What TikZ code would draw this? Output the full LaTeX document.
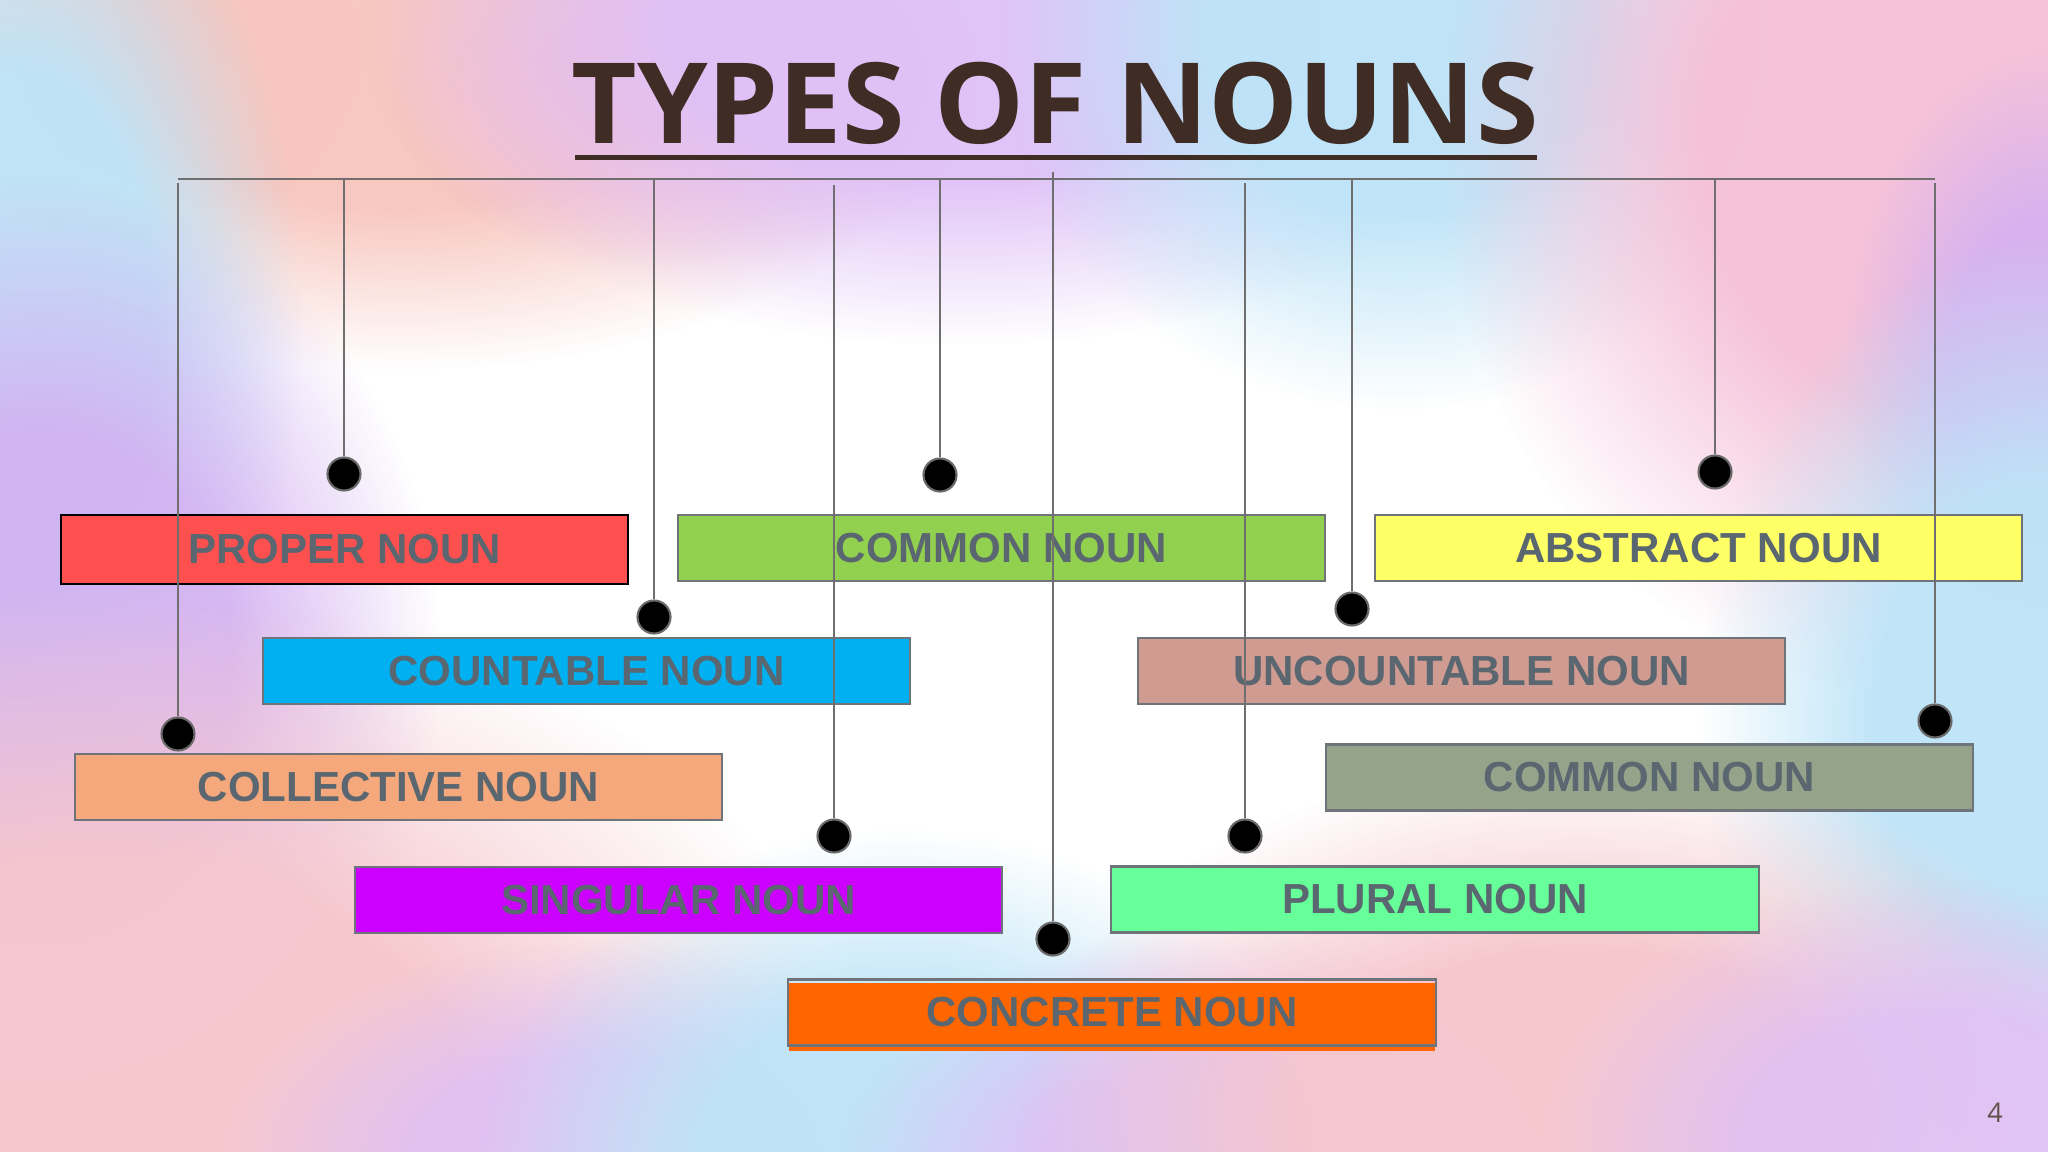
\documentclass[tikz,border=0pt]{standalone}
\usepackage{fontspec}
\setmainfont{Liberation Sans}
\newfontfamily\titlefont{Open Sans}
\usetikzlibrary{fadings}

\definecolor{wpeach}{HTML}{F8C4BC}
\definecolor{wpink}{HTML}{F5BFD8}
\definecolor{wlav}{HTML}{DFC0F7}
\definecolor{wpurp}{HTML}{D3B0F2}
\definecolor{wblue}{HTML}{BDE4F8}
\definecolor{wrose}{HTML}{F6C6CC}

\definecolor{titlebrown}{HTML}{3F2D25}
\definecolor{labeltext}{HTML}{5A6670}
\definecolor{boxline}{HTML}{6E747A}
\definecolor{linegray}{HTML}{6F6F6F}
\definecolor{beadrim}{HTML}{6A6A6A}
\definecolor{pagenum}{HTML}{5F5049}

\definecolor{cProper}{HTML}{FF5050}
\definecolor{cCommon}{HTML}{92D050}
\definecolor{cAbstract}{HTML}{FFFF66}
\definecolor{cCountable}{HTML}{00B0F0}
\definecolor{cUncount}{HTML}{D09B91}
\definecolor{cCollective}{HTML}{F5A87B}
\definecolor{cGray}{HTML}{95A38A}
\definecolor{cSingular}{HTML}{CC00FF}
\definecolor{cPlural}{HTML}{66FF99}
\definecolor{cConcrete}{HTML}{FF6600}

\pgfdeclareradialshading{blobshade}{\pgfpoint{0bp}{0bp}}{color(0bp)=(white); color(12bp)=(white); color(25bp)=(black); color(50bp)=(black)}
\pgfdeclarefading{blobfade}{\pgfuseshading{blobshade}}

\newcommand\wcblob[5]{\fill[#1, path fading=blobfade, fill opacity=#5] (#2) ellipse ({2*#3} and {2*#4});}

\tikzset{
  nbox/.style={draw=boxline, line width=0.6pt, minimum height=0.66cm,
    minimum width=6.47cm, inner sep=0pt,
    font=\fontsize{11.95}{12}\selectfont\bfseries, text=labeltext},
  conn/.style={draw=linegray, line width=0.38pt},
  bead/.style={circle, fill=black, draw=beadrim, line width=0.6pt,
    minimum size=0.33cm, inner sep=0pt},
}

\begin{document}
\begin{tikzpicture}[x=0.01cm,y=-0.01cm]
\useasboundingbox (0,0) rectangle (2048,1152);
\fill[white] (0,0) rectangle (2048,1152);

% watercolor background
\begin{scope}
\clip (0,0) rectangle (2048,1152);
\wcblob{wpeach}{40,50}{160}{110}{0.4}
\wcblob{wpeach}{400,50}{290}{160}{0.95}
\wcblob{wpink}{690,90}{150}{90}{0.6}
\wcblob{wlav}{960,25}{300}{160}{0.95}
\wcblob{wblue}{1400,30}{200}{190}{0.95}
\wcblob{wpink}{1940,140}{250}{280}{0.95}
\wcblob{wpurp}{2045,370}{100}{160}{0.85}
\wcblob{wblue}{20,320}{140}{260}{0.95}
\wcblob{wpurp}{40,660}{200}{240}{0.9}
\wcblob{wblue}{2040,720}{170}{240}{0.95}
\wcblob{wrose}{100,1110}{380}{260}{0.95}
\wcblob{wlav}{600,1160}{190}{110}{0.85}
\wcblob{wblue}{900,1170}{210}{170}{0.95}
\wcblob{wlav}{1220,1170}{190}{120}{0.9}
\wcblob{wrose}{1580,1120}{280}{180}{0.95}
\wcblob{wlav}{1940,1140}{200}{130}{0.85}
\end{scope}

% title
\node[anchor=base, inner sep=0pt, text=titlebrown,
  font=\titlefont\bfseries\fontsize{31.9}{34}\selectfont] (title) at (1055,143.5)
  {\scalebox{1.01}[1]{TYPES OF NOUNS}};
\draw[titlebrown, line width=1.6pt] (575,157.5) -- (1537,157.5);

% boxes
\node[nbox, fill=cProper, draw=black, minimum width=5.67cm, minimum height=0.69cm] (bProper) at (344.5,549.5) {PROPER NOUN};
\node[nbox, fill=cCommon] (bCommon) at (1001.5,548) {COMMON NOUN};
\node[nbox, fill=cAbstract] (bAbstract) at (1698.5,548) {ABSTRACT NOUN};
\node[nbox, fill=cCountable] (bCountable) at (586.5,671) {COUNTABLE NOUN};
\node[nbox, fill=cUncount] (bUncount) at (1461.5,671) {UNCOUNTABLE NOUN};
\node[nbox, fill=cCollective] (bCollective) at (398.5,787) {COLLECTIVE NOUN};
\node[nbox, fill=cGray] (bGray) at (1649.5,777.5) {COMMON NOUN};
\node[nbox, fill=cSingular] (bSingular) at (678.5,900) {SINGULAR NOUN};
\node[nbox, fill=cPlural] (bPlural) at (1435,899.5) {PLURAL NOUN};
\fill[cConcrete] (789,983) rectangle (1435,1051);
\node[nbox] (bConcrete) at (1112,1012.5) {CONCRETE NOUN};

% top bar
\coordinate (barL) at (178,179);
\coordinate (barR) at (1935,179);
\draw[conn] (barL) -- (barR);

% beads
\node[bead] (dCollective) at (178,734) {};
\node[bead] (dProper) at (344,474) {};
\node[bead] (dCountable) at (654,617) {};
\node[bead] (dSingular) at (834,836) {};
\node[bead] (dCommon) at (940,475) {};
\node[bead] (dConcrete) at (1053,939) {};
\node[bead] (dPlural) at (1245,836) {};
\node[bead] (dUncount) at (1352,609) {};
\node[bead] (dAbstract) at (1715,472) {};
\node[bead] (dGray) at (1935,721) {};

% hanging strings
\coordinate (t1) at (178,183);
\coordinate (t2) at (344,179);
\coordinate (t3) at (654,179);
\coordinate (t4) at (834,185);
\coordinate (t5) at (940,179);
\coordinate (t6) at (1053,172);
\coordinate (t7) at (1245,183);
\coordinate (t8) at (1352,179);
\coordinate (t9) at (1715,179);
\coordinate (t10) at (1935,183);
\draw[conn] (t1) -- (dCollective);
\draw[conn] (t2) -- (dProper);
\draw[conn] (t3) -- (dCountable);
\draw[conn] (t4) -- (dSingular);
\draw[conn] (t5) -- (dCommon);
\draw[conn] (t6) -- (dConcrete);
\draw[conn] (t7) -- (dPlural);
\draw[conn] (t8) -- (dUncount);
\draw[conn] (t9) -- (dAbstract);
\draw[conn] (t10) -- (dGray);

% page number
\node[text=pagenum, font=\titlefont\fontsize{7.7}{8}\selectfont, inner sep=0pt] (pg) at (1995,1113) {4};
\end{tikzpicture}
\end{document}
